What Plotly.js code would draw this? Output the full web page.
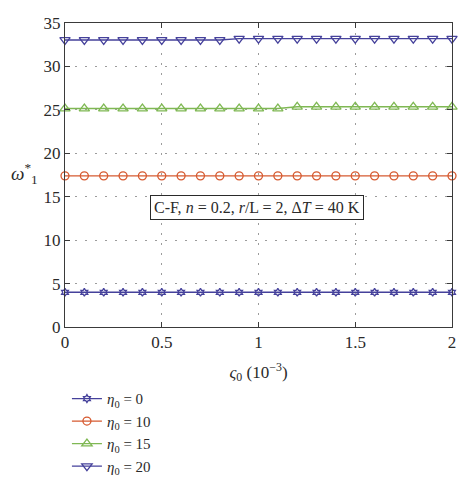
<!DOCTYPE html>
<html>
<head>
<meta charset="utf-8">
<script src="https://cdn.plot.ly/plotly-3.0.1.min.js"></script>
<style>
  html, body { margin: 0; padding: 0; background: #fff; }
  #plot { width: 474px; height: 493px; }
</style>
</head>
<body>
<div id="plot"></div>
<script>
// nonlocal parameter axis (x 10^-3)
const zeta0 = [0, 0.1, 0.2, 0.3, 0.4, 0.5, 0.6, 0.7, 0.8, 0.9, 1.0,
  1.1, 1.2, 1.3, 1.4, 1.5, 1.6, 1.7, 1.8, 1.9, 2.0];

// dimensionless frequency for each eta0
const omegaEta0 = [4.0, 4.0, 4.0, 4.0, 4.0, 4.0, 4.0, 4.0, 4.0, 4.0, 4.0,
  4.0, 4.0, 4.0, 4.0, 4.0, 4.0, 4.0, 4.0, 4.0, 4.0];
const omegaEta10 = [17.4, 17.4, 17.4, 17.4, 17.4, 17.4, 17.4, 17.4, 17.4, 17.4, 17.4,
  17.4, 17.4, 17.4, 17.4, 17.4, 17.4, 17.4, 17.4, 17.4, 17.4];
const omegaEta15 = [25.15, 25.15, 25.15, 25.15, 25.15, 25.15, 25.15, 25.15, 25.15, 25.15, 25.15,
  25.15, 25.35, 25.35, 25.35, 25.35, 25.35, 25.35, 25.35, 25.35, 25.35];
const omegaEta20 = [33.05, 33.05, 33.05, 33.05, 33.05, 33.05, 33.05, 33.05, 33.05, 33.2, 33.2,
  33.2, 33.2, 33.2, 33.2, 33.2, 33.2, 33.2, 33.2, 33.2, 33.2];

const seriesNames = ["<i>η</i><sub>0</sub> = 0", "<i>η</i><sub>0</sub> = 10",
  "<i>η</i><sub>0</sub> = 15", "<i>η</i><sub>0</sub> = 20"];
const xTicks = [0, 0.5, 1, 1.5, 2];
const xTickText = ["0", "0.5", "1", "1.5", "2"];
const yTicks = [0, 5, 10, 15, 20, 25, 30, 35];

const serif = "Liberation Serif";
const blue = "#45419b";
const red = "#d65a30";
const green = "#7fb853";

const makeTrace = (y, name, color, symbol, size) => ({
  type: "scatter",
  mode: "lines+markers",
  x: zeta0,
  y: y,
  name: name,
  line: { color: color, width: 1.4 },
  marker: { symbol: symbol, size: size, color: color, line: { color: color, width: 1.3 } },
  cliponaxis: false,
});

const data = [
  makeTrace(omegaEta0, seriesNames[0], blue, "hexagram-open", 6),
  makeTrace(omegaEta10, seriesNames[1], red, "circle-open", 8),
  makeTrace(omegaEta15, seriesNames[2], green, "triangle-up-open", 9),
  makeTrace(omegaEta20, seriesNames[3], blue, "triangle-down-open", 9),
];

const axisCommon = {
  showline: true,
  linecolor: "#3a3a3a",
  linewidth: 1,
  mirror: "ticks",
  ticks: "inside",
  ticklen: 5,
  tickcolor: "#3a3a3a",
  zeroline: false,
  showgrid: true,
  gridcolor: "#9c9c9c",
  griddash: "1.5px,8.5px",
  gridwidth: 1.2,
  automargin: false,
  tickfont: { family: serif, size: 17, color: "#2a2a2a" },
};

const layout = {
  width: 474,
  height: 493,
  // fixed margins so the legend below the axes doesn't shrink the plot
  margin: { l: 65, r: 22, t: 23, b: 166, autoexpand: false },
  paper_bgcolor: "#fff",
  plot_bgcolor: "#fff",
  font: { family: serif, color: "#2a2a2a" },
  showlegend: true,
  legend: {
    x: 0.005,
    xanchor: "left",
    y: -0.182,
    yanchor: "top",
    font: { family: serif, size: 15, color: "#2a2a2a" },
    tracegroupgap: 0,
    itemwidth: 30,
  },
  xaxis: Object.assign({}, axisCommon, {
    range: [0, 2],
    tickvals: xTicks,
    ticktext: xTickText,
    title: {
      text: "<i>ς</i><sub>0</sub> (10<sup>−3</sup>)",
      font: { family: serif, size: 17, color: "#2a2a2a" },
      standoff: 14,
    },
  }),
  yaxis: Object.assign({}, axisCommon, {
    range: [0, 35],
    tickvals: yTicks,
  }),
  annotations: [
    {
      xref: "paper",
      yref: "y",
      x: -0.105,
      y: 17.7,
      xanchor: "center",
      yanchor: "middle",
      showarrow: false,
      text: "<i>ω</i><sup>*</sup><sub>1</sub>",
      font: { family: serif, size: 19, color: "#2a2a2a" },
    },
    {
      xref: "x",
      yref: "y",
      x: 0.99,
      y: 13.8,
      showarrow: false,
      text: "C-F, <i>n</i> = 0.2, <i>r</i>/L = 2, Δ<i>T</i> = 40 K",
      font: { family: serif, size: 16, color: "#2a2a2a" },
      bgcolor: "#fff",
      bordercolor: "#2a2a2a",
      borderwidth: 1,
      borderpad: 3,
    },
  ],
};

Plotly.newPlot("plot", data, layout, { staticPlot: true, displayModeBar: false });
</script>
</body>
</html>
